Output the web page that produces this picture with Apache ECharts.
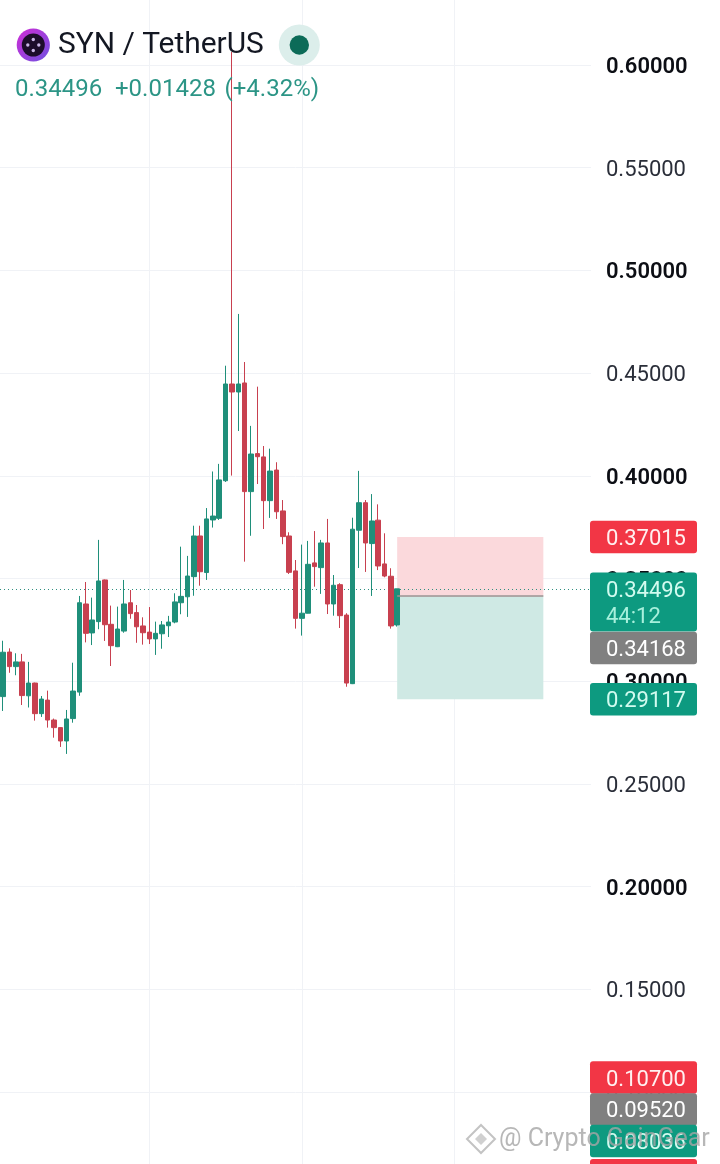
<!DOCTYPE html>
<html><head><meta charset="utf-8">
<style>html,body{margin:0;padding:0;background:#fff}#c{width:720px;height:1164px}</style>
<script src="https://cdn.jsdelivr.net/npm/echarts@6/dist/echarts.min.js"></script></head>
<body><div id="c"></div>
<script>
// open, close, low, high
const candles = [
[.2925,.3141,.2855,.3197],[.3142,.3071,.3041,.3160],[.3071,.3094,.3029,.3136],[.3094,.2930,.2884,.3133],
[.2929,.2991,.2872,.3094],[.2991,.2842,.2808,.2993],[.2842,.2913,.2826,.2928],[.2908,.2811,.2774,.2954],
[.2811,.2774,.2725,.2818],[.2774,.2709,.2680,.2776],[.2709,.2816,.2646,.2860],[.2818,.2952,.2798,.3090],
[.2947,.3382,.2929,.3415],[.3376,.3233,.3189,.3483],[.3235,.3298,.3176,.3407],[.3290,.3488,.3253,.3688],
[.3493,.3275,.3196,.3495],[.3277,.3173,.3074,.3368],[.3168,.3254,.3166,.3363],[.3244,.3376,.3236,.3493],
[.3382,.3329,.3304,.3444],[.3334,.3265,.3187,.3371],[.3269,.3236,.3178,.3311],[.3239,.3206,.3181,.3361],
[.3206,.3233,.3128,.3290],[.3231,.3274,.3158,.3293],[.3270,.3288,.3215,.3318],[.3288,.3386,.3282,.3428],
[.3382,.3413,.3326,.3655],[.3411,.3512,.3313,.3610],[.3509,.3707,.3416,.3757],[.3707,.3533,.3465,.3757],
[.3529,.3790,.3493,.3843],[.3785,.3804,.3748,.4021],[.3793,.3980,.3785,.4058],[.3976,.4447,.3970,.4536],
[.4447,.4408,.4001,.6063],[.4408,.4447,.4218,.4788],[.4452,.3923,.3582,.4554],[.3923,.4106,.3708,.4243],
[.4108,.4093,.3960,.4434],[.4092,.3879,.3741,.4145],[.3879,.4023,.3795,.4132],[.4028,.3825,.3790,.4066],
[.3829,.3704,.3667,.3882],[.3707,.3530,.3522,.3725],[.3537,.3306,.3256,.3590],[.3306,.3331,.3222,.3665],
[.3331,.3569,.3330,.3683],[.3576,.3558,.3460,.3731],[.3553,.3673,.3425,.3688],[.3673,.3376,.3327,.3790],
[.3376,.3467,.3319,.3517],[.3470,.3319,.3259,.3477],[.3322,.2991,.2973,.3331],[.2988,.3740,.2986,.3796],
[.3735,.3869,.3551,.4024],[.3869,.3673,.3532,.3882],[.3670,.3780,.3415,.3911],[.3784,.3561,.3541,.3861],
[.3571,.3512,.3506,.3720],[.3511,.3269,.3256,.3550],[.3274,.34496,.3266,.34496]
];
const slotCount = 93;
const categories = Array.from({length: slotCount}, (_, i) => String(i));
const yTickLabels = ['0.10000','0.15000','0.20000','0.25000','0.30000','0.35000','0.40000','0.45000','0.50000','0.55000','0.60000'];
const boldTicks = ['0.20000','0.30000','0.35000','0.40000','0.50000','0.60000'];
const lastPrice = 0.34496, stopPrice = 0.37015, entryPrice = 0.34168, targetPrice = 0.29117;
const boxStart = '62', boxEnd = '85';
const tagTexts  = ['0.37015','0.34496','0.34168','0.29117','0.10700','0.09520','0.08036','0.06000'];
const tagSub    = ['','44:12','','','','','',''];
const tagLevels = [0.37015,0.33850,0.31620,0.29117,0.10700,0.09150,0.07620,0.05950];
const tagKinds  = ['red','green','grey','green','red','grey','green','red'];

const GREEN='#1f8f7a', RED='#c8404f';
const tagFill={red:'#f23645',green:'#0d9a80',grey:'#808080'};
const tagInk={red:'#fff0f0',green:'#d2fbef',grey:'#ffffff'};
const FONT='Roboto';

const chart = echarts.init(document.getElementById('c'), null, {renderer:'canvas'});
chart.setOption({
  animation:false,
  backgroundColor:'#ffffff',
  grid:{left:0, top:-37.7, width:591, height:1335.1, outerBoundsMode:'none', containLabel:false},
  xAxis:{type:'category', data:categories, boundaryGap:true,
    axisLine:{show:false}, axisTick:{show:false}, axisLabel:{show:false},
    splitLine:{show:true, alignWithLabel:true, interval:(i)=>(i+1)%24===0, lineStyle:{color:'#f0f2f6',width:1}}},
  yAxis:{type:'value', min:0, max:0.65, interval:0.05, position:'right', scale:false,
    axisLine:{show:false}, axisTick:{show:false},
    splitLine:{show:true, lineStyle:{color:'#f0f2f6',width:1}},
    axisLabel:{margin:15, align:'left', fontFamily:FONT, fontSize:22, color:'#1c2030',
      formatter:(v)=>{const s=v.toFixed(5); if(!yTickLabels.includes(s))return ''; return boldTicks.includes(s)?'{b|'+s+'}':'{r|'+s+'}';},
      rich:{b:{fontFamily:FONT,fontSize:22,fontWeight:600,color:'#0c0e14',padding:[5,0,0,0]},r:{fontFamily:FONT,fontSize:22,color:'#2a2e39',padding:[5,0,0,0]}}}},
  series:[
    {type:'custom', name:'last price', z:2, silent:true, clip:false,
      data:[[0,lastPrice]], encode:{x:0,y:1},
      renderItem:(params,api)=>{
        const cs=params.coordSys, y=Math.round(api.coord([0,api.value(1)])[1])+0.5;
        return {type:'line',shape:{x1:cs.x,y1:y,x2:cs.x+cs.width,y2:y},style:{stroke:'#2f8f80',lineWidth:1,lineDash:[1,3]}};
      }
    },
    {type:'candlestick', name:'SYN / TetherUS', data:candles, barWidth:5, z:3, silent:true, clip:false,
      dimensions:['t','open','close','low','high'],
      itemStyle:{color:GREEN,color0:RED,borderColor:GREEN,borderColor0:RED,borderWidth:1},
      markArea:{silent:true, data:[
        [{xAxis:boxStart,yAxis:stopPrice,itemStyle:{color:'#fbd9dc'}},{xAxis:boxEnd,yAxis:entryPrice}],
        [{xAxis:boxStart,yAxis:entryPrice,itemStyle:{color:'#cfe9e4'}},{xAxis:boxEnd,yAxis:targetPrice}]
      ]},
      markLine:{silent:true, symbol:'none', label:{show:false}, animation:false, data:[
        [{xAxis:boxStart,yAxis:entryPrice,lineStyle:{color:'#a08f90',type:'solid',width:1.5}},{xAxis:boxEnd,yAxis:entryPrice}]
      ]}
    },
    {type:'custom', name:'price tags', z:10, silent:true, clip:false,
      data:tagLevels.map((lvl,i)=>[0,lvl,i]),
      encode:{x:0,y:1},
      renderItem:(params,api)=>{
        const i=api.value(2), cy=api.coord([0,api.value(1)])[1];
        const x=params.coordSys.x+params.coordSys.width-1, kind=tagKinds[i], two=!!tagSub[i];
        const h=two?59:32.5, w=107;
        const kids=[{type:'rect',shape:{x:x,y:cy-h/2,width:w,height:h,r:3},style:{fill:tagFill[kind]}}];
        kids.push({type:'text',style:{text:tagTexts[i],x:x+16,y:two?cy-11:cy+2.5,verticalAlign:'middle',font:'22px '+FONT,fill:tagInk[kind]}});
        if(two) kids.push({type:'text',style:{text:tagSub[i],x:x+16,y:cy+15,verticalAlign:'middle',font:'22px '+FONT,fill:'#a8f0dc'}});
        return {type:'group',children:kids};
      }
    }
  ],
  graphic:[
    {type:'circle',z:20,shape:{cx:33.3,cy:45,r:16.6},style:{fill:new echarts.graphic.LinearGradient(0,0,1,1,[{offset:0,color:'#cf2bd6'},{offset:1,color:'#6f52e0'}])}},
    {type:'circle',z:21,shape:{cx:33.3,cy:45,r:11.5},style:{fill:'#1c0d2b'}},
    {type:'circle',z:22,shape:{cx:33.3,cy:39.5,r:1.7},style:{fill:'#c9b6e6'}},
    {type:'circle',z:22,shape:{cx:33.3,cy:50.5,r:1.7},style:{fill:'#c9b6e6'}},
    {type:'circle',z:22,shape:{cx:27.8,cy:45,r:1.7},style:{fill:'#c9b6e6'}},
    {type:'circle',z:22,shape:{cx:38.8,cy:45,r:1.7},style:{fill:'#c9b6e6'}},
    {type:'text',z:20,style:{text:'SYN / TetherUS',x:58,y:46,verticalAlign:'middle',font:'29.9px '+FONT,fill:'#131722'}},
    {type:'circle',z:20,shape:{cx:299.3,cy:45,r:20.5},style:{fill:'#dceeeb'}},
    {type:'circle',z:21,shape:{cx:299.3,cy:45,r:9.7},style:{fill:'#0c6b58'}},
    {type:'text',z:20,style:{text:'0.34496',x:15,y:90,verticalAlign:'middle',font:'24px '+FONT,fill:'#2c9586'}},
    {type:'text',z:20,style:{text:'+0.01428',x:115,y:90,verticalAlign:'middle',font:'24px '+FONT,fill:'#2c9586'}},
    {type:'text',z:20,style:{text:'(+4.32%)',x:224.5,y:90,verticalAlign:'middle',font:'24px '+FONT,fill:'#2c9586'}},
    {type:'polygon',z:30,shape:{points:[[481,1125],[495,1139],[481,1153],[467,1139]]},style:{fill:'rgba(255,255,255,0.35)',stroke:'rgba(170,170,170,0.7)',lineWidth:2}},
    {type:'polygon',z:30,shape:{points:[[481,1133],[487,1139],[481,1145],[475,1139]]},style:{fill:'rgba(170,170,170,0.55)'}},
    {type:'text',z:30,style:{text:'@ Crypto GainGear',x:499,y:1140,verticalAlign:'middle',font:'25px '+FONT,fill:'rgba(165,165,165,0.8)'}}
  ]
});
</script></body></html>
